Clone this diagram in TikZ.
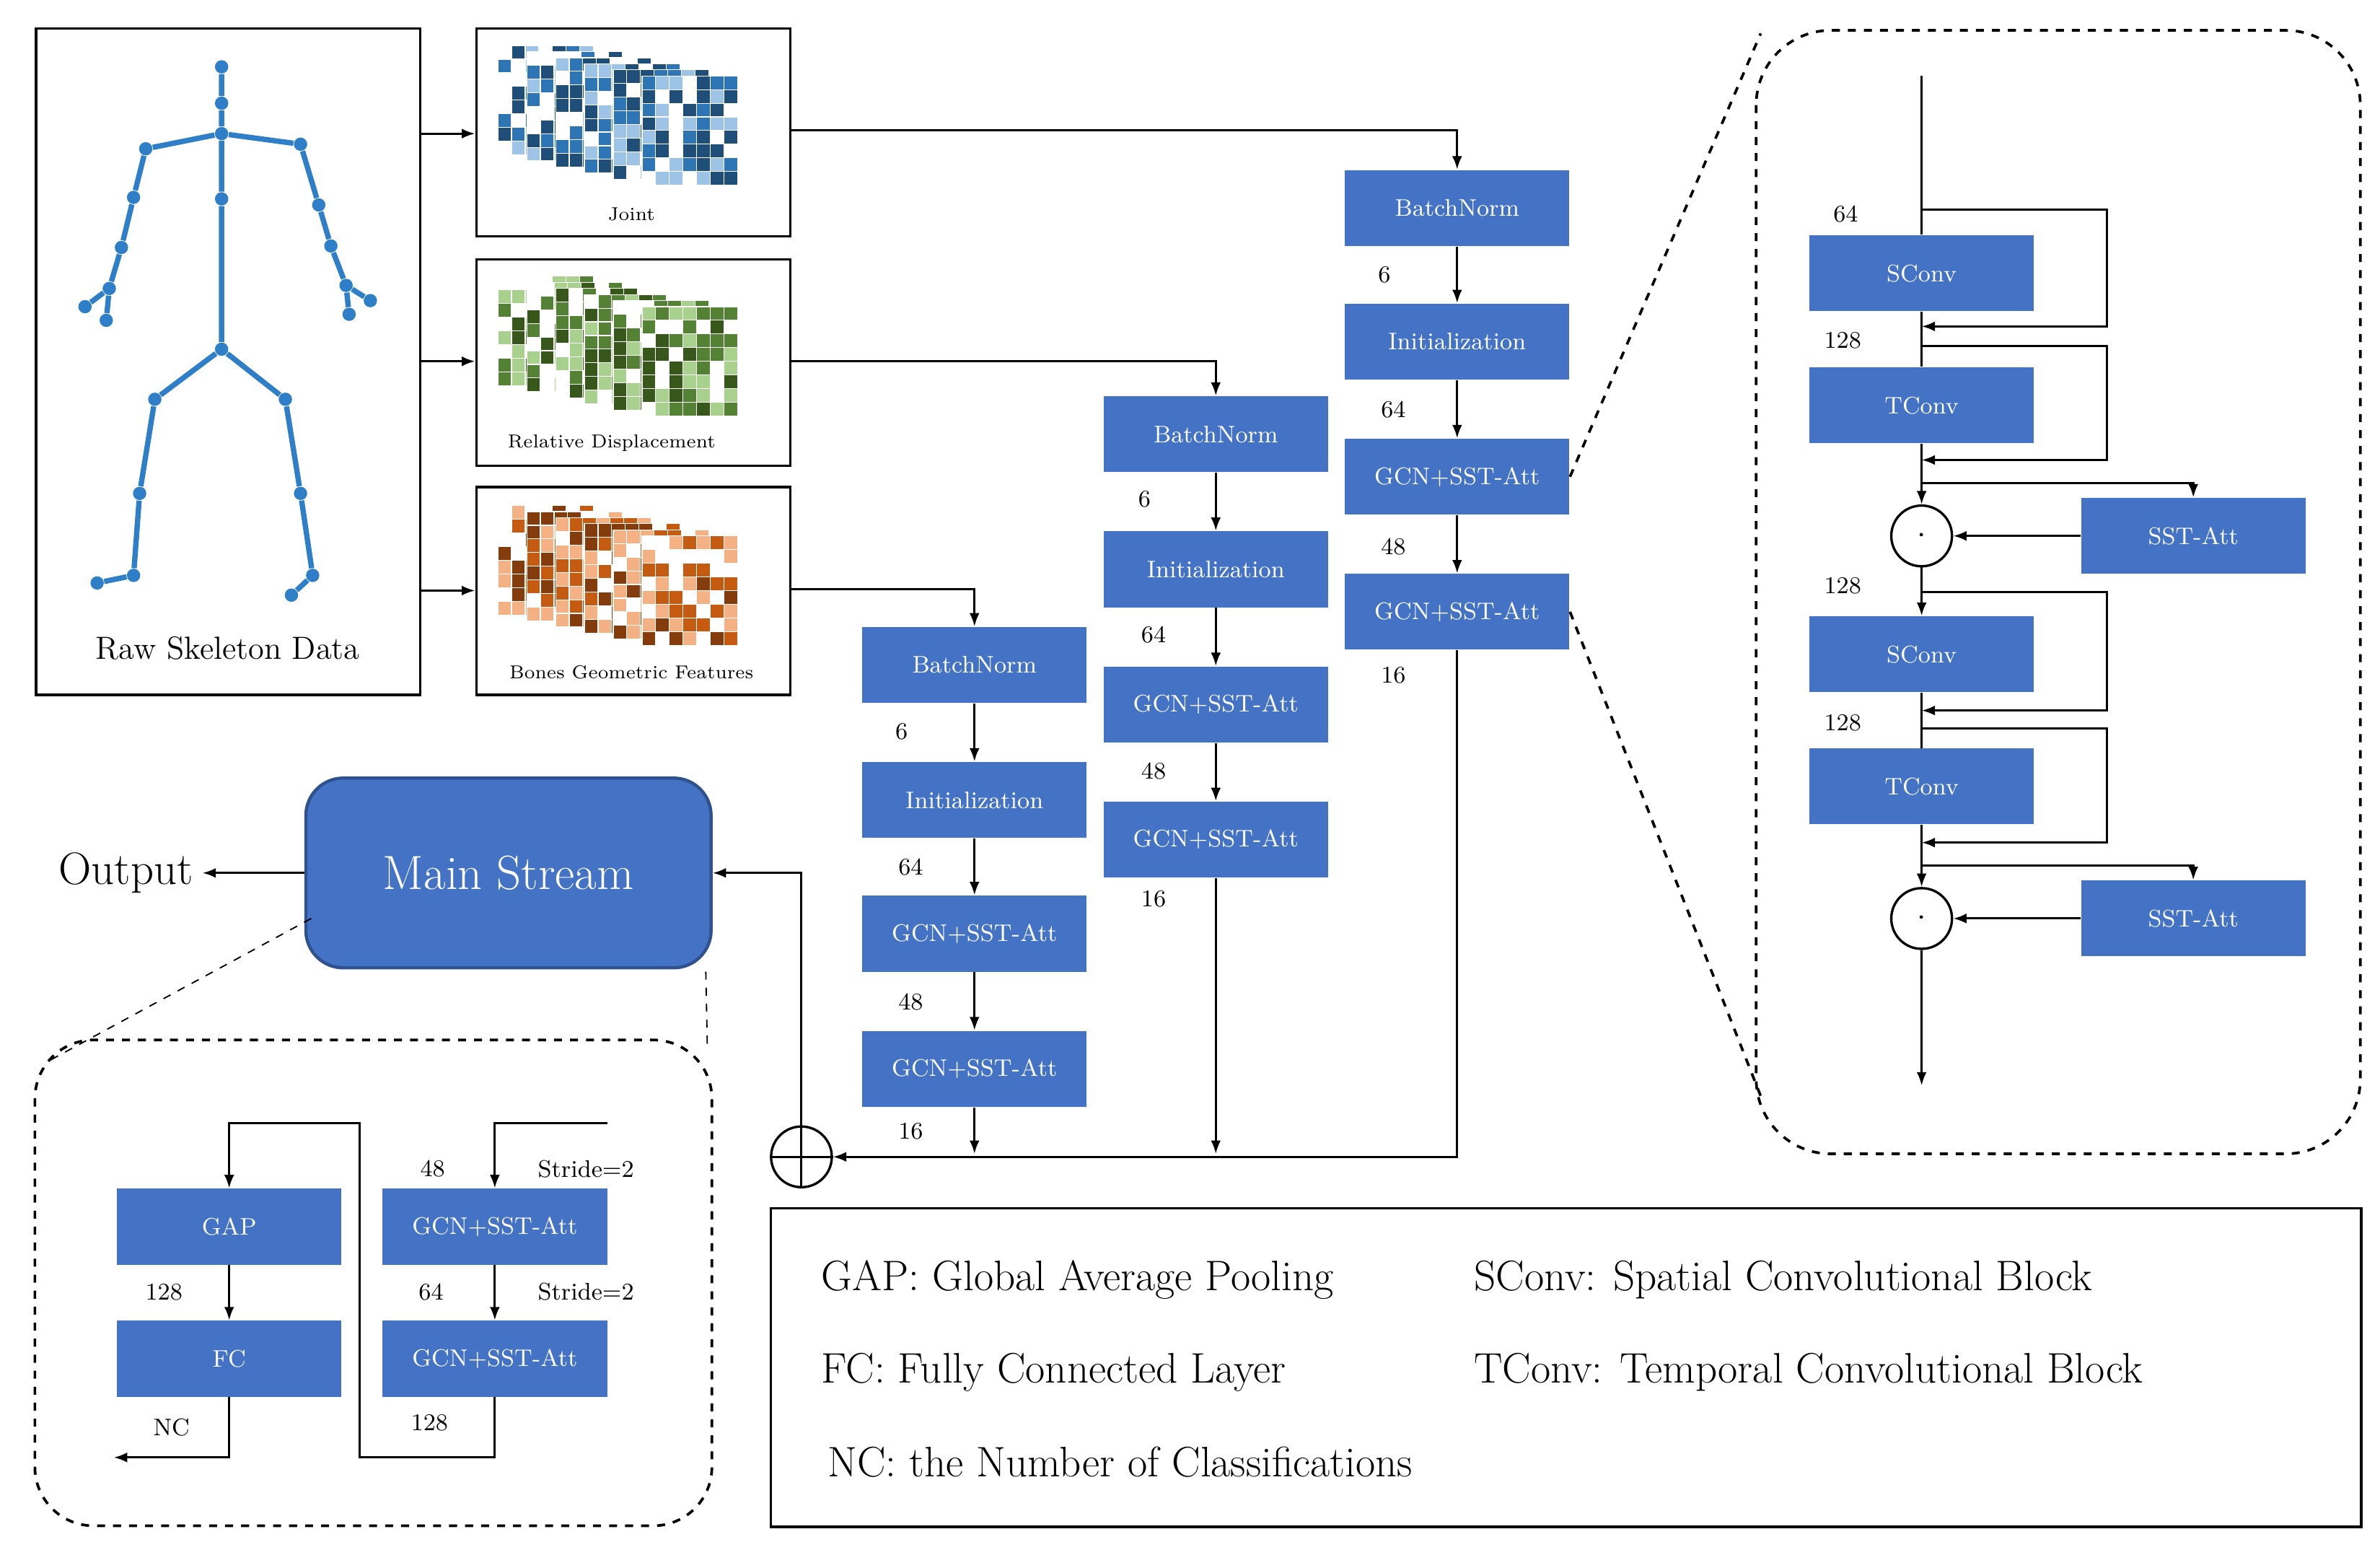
\documentclass[tikz,border=0pt]{standalone}
\usetikzlibrary{arrows.meta,positioning}
\definecolor{blk}{HTML}{4472C4}
\definecolor{blkd}{HTML}{2F528F}
\definecolor{skel}{HTML}{2E7FC8}
\definecolor{bl1}{HTML}{1F4E79}\definecolor{bl2}{HTML}{2E75B6}\definecolor{bl3}{HTML}{9DC3E6}
\definecolor{gr1}{HTML}{38571A}\definecolor{gr2}{HTML}{548235}\definecolor{gr3}{HTML}{A9D18E}
\definecolor{or1}{HTML}{843C0C}\definecolor{or2}{HTML}{C55A11}\definecolor{or3}{HTML}{F4B183}
\tikzset{
  blk/.style={fill=blk,text=white,minimum width=2.96cm,minimum height=1cm,inner sep=0pt,font=\small},
  num/.style={font=\small,inner sep=1pt},
  frame/.style={draw,line width=0.9pt},
  arr/.style={-{Latex[length=5pt]},line width=0.8pt},
  ln/.style={line width=0.8pt},
  jt/.style={circle,fill=skel,inner sep=0pt,minimum size=5pt},
}
% stack of feature grids: x0, y0, palette, seed
\newcommand\featstack[4]{%
  \pgfmathsetseed{#4}%
  \foreach \l in {0,...,5}{%
    \foreach \i in {0,...,6}{%
      \foreach \j in {0,...,7}{%
        \pgfmathrandominteger{\r}{1}{4}%
        \ifnum\r=4 \def\cc{white}\else\def\cc{#3\r}\fi
        \filldraw[fill=\cc,draw=white,line width=0.3pt]
          ({#1+\l*19+\i*9},{#2+\l*4+\j*9}) rectangle ++(9,9);
      }}}}
\begin{document}
\begin{tikzpicture}[x=0.02cm,y=-0.02cm]
\useasboundingbox (0,0) rectangle (1568,1024);

% skeleton
\node[frame,minimum width=5.06cm,minimum height=8.78cm,anchor=north west] (skelbox) at (23,18) {};
\node[font=\large] (rawlbl) at (150,427) {Raw Skeleton Data};
\foreach \n/\x/\y in {hd/146/44,nk/146/68,sc/146/88,ls/96/98,rs/198/95,sp/146/131,hp/146/230,
  le/88/130,lw/80/163,lh/72/190,lf1/56/202,lf2/70/211,
  re/210/135,rw/218/162,rh/228/188,rf1/244/198,rf2/230/207,
  lk0/102/263,lk/92/325,la/88/379,lt/64/384,rk0/188/263,rk/198/325,ra/206/379,rt/192/392}
  \node[jt] (\n) at (\x,\y) {};
\draw[skel,line width=2pt] (hd)--(nk)--(sc)--(sp)--(hp)
  (ls)--(sc)--(rs) (ls)--(le)--(lw)--(lh)--(lf1) (lh)--(lf2)
  (rs)--(re)--(rw)--(rh)--(rf1) (rh)--(rf2)
  (hp)--(lk0)--(lk)--(la)--(lt) (hp)--(rk0)--(rk)--(ra)--(rt);

% feature inputs
\node[frame,minimum width=4.14cm,minimum height=2.74cm,anchor=north west] (joint) at (313,18) {};
\node[frame,minimum width=4.14cm,minimum height=2.72cm,anchor=north west] (reldis) at (313,170) {};
\node[frame,minimum width=4.14cm,minimum height=2.74cm,anchor=north west] (bones) at (313,320) {};
\featstack{328}{30}{bl}{3}
\featstack{328}{182}{gr}{7}
\featstack{328}{333}{or}{11}
\node[font=\scriptsize] at (416,141) {Joint};
\node[font=\scriptsize] at (403,292) {Relative Displacement};
\node[font=\scriptsize] at (416,443) {Bones Geometric Features};
\foreach \y/\t in {88/joint,238/reldis,389/bones}
  \draw[arr] (276,\y) -- (\t.west |- 0,\y);

% three streams
\node[blk] (bn4) at (960,137) {BatchNorm};
\node[blk] (in4) at (960,225) {Initialization};
\node[blk] (ga4) at (960,314) {GCN+SST-Att};
\node[blk] (gb4) at (960,403) {GCN+SST-Att};
\node[blk] (bn3) at (801,286) {BatchNorm};
\node[blk] (in3) at (801,375) {Initialization};
\node[blk] (ga3) at (801,464) {GCN+SST-Att};
\node[blk] (gb3) at (801,553) {GCN+SST-Att};
\node[blk] (bn2) at (642,438) {BatchNorm};
\node[blk] (in2) at (642,527) {Initialization};
\node[blk] (ga2) at (642,615) {GCN+SST-Att};
\node[blk] (gb2) at (642,704) {GCN+SST-Att};
\foreach \c/\x in {4/918,3/760,2/600}{
  \draw[arr] (bn\c) -- (in\c);
  \draw[arr] (in\c) -- (ga\c);
  \draw[arr] (ga\c) -- (gb\c);
}
\node[num] at (912,181) {6};\node[num] at (918,270) {64};\node[num] at (918,360) {48};\node[num] at (918,445) {16};
\node[num] at (754,329) {6};\node[num] at (760,418) {64};\node[num] at (760,508) {48};\node[num] at (760,592) {16};
\node[num] at (594,482) {6};\node[num] at (600,571) {64};\node[num] at (600,660) {48};\node[num] at (600,745) {16};
\draw[arr] (joint.east |- 0,86) -| (bn4.north);
\draw[arr] (reldis.east |- 0,238) -| (bn3.north);
\draw[arr] (bones.east |- 0,388) -| (bn2.north);

% fusion
\node[circle,draw,line width=0.9pt,minimum size=0.8cm,inner sep=0pt] (sum) at (528,762) {};
\draw[ln] (sum.north)--(sum.south) (sum.west)--(sum.east);
\draw[arr] (gb4.south) |- (sum.east);
\draw[arr] (gb3.south) -- (gb3.south |- 0,760);
\draw[arr] (gb2.south) -- (gb2.south |- 0,760);
\node[draw=blkd,fill=blk,text=white,rounded corners=14pt,line width=1.2pt,minimum width=5.34cm,
  minimum height=2.5cm,font=\fontsize{18}{20}\selectfont] (main) at (335,575) {Main Stream};
\draw[arr] (sum.north) |- (main.east);
\node[font=\fontsize{17}{20}\selectfont] (out) at (83,575) {Output};
\draw[arr] (main.west) -- (out.east);

% main stream detail
\draw[dashed,line width=1pt,rounded corners=22pt] (23,685) rectangle (469,1005);
\draw[dashed,line width=0.5pt] (205,605) -- (30,700);
\draw[dashed,line width=0.5pt] (465,640) -- (466,690);
\node[blk] (gap) at (151,808) {GAP};
\node[blk] (fc) at (151,895) {FC};
\node[blk] (ms1) at (326,808) {GCN+SST-Att};
\node[blk] (ms2) at (326,895) {GCN+SST-Att};
\coordinate (msin) at (400,740);
\coordinate (ncout) at (75,960);
\draw[arr] (msin) -| (ms1.north);
\draw[arr] (ms1) -- (ms2);
\draw[arr] (ms2.south) |- (237,960) |- (gap.north |- 0,740) -- (gap.north);
\draw[arr] (gap) -- (fc);
\draw[arr] (fc.south) |- (ncout);
\node[num] at (285,770) {48};\node[num] at (386,770) {Stride=2};
\node[num] at (284,851) {64};\node[num] at (386,851) {Stride=2};
\node[num] at (283,937) {128};\node[num] at (108,851) {128};\node[num] at (113,940) {NC};

% legend
\node[frame,minimum width=20.96cm,minimum height=4.2cm,anchor=north west] (legend) at (507,795) {};
\begin{scope}[font=\fontsize{16}{19}\selectfont]
\node[anchor=west] at (535,843) {GAP: Global Average Pooling};
\node[anchor=west] at (965,843) {SConv: Spatial Convolutional Block};
\node[anchor=west] at (535,904) {FC: Fully Connected Layer};
\node[anchor=west] at (965,904) {TConv: Temporal Convolutional Block};
\node[anchor=west] at (539,963) {NC: the Number of Classifications};
\end{scope}

% GCN+SST-Att detail
\draw[dashed,line width=1pt,rounded corners=28pt] (1157,20) rectangle (1555,760);
\draw[dashed,line width=1pt] (ga4.east) -- (1160,22);
\draw[dashed,line width=1pt] (gb4.east) -- (1160,722);
\node[blk] (sc1) at (1266,180) {SConv};
\node[blk] (tc1) at (1266,267) {TConv};
\node[circle,draw,line width=0.9pt,minimum size=0.8cm,inner sep=0pt,font=\large] (dot1) at (1266,353) {$\cdot$};
\node[blk] (at1) at (1445,353) {SST-Att};
\node[blk] (sc2) at (1266,431) {SConv};
\node[blk] (tc2) at (1266,518) {TConv};
\node[circle,draw,line width=0.9pt,minimum size=0.8cm,inner sep=0pt,font=\large] (dot2) at (1266,605) {$\cdot$};
\node[blk] (at2) at (1445,605) {SST-Att};
\coordinate (din) at (1266,50);
\coordinate (dout) at (1266,715);
\draw[ln] (din) -- (sc1);
\draw[ln] (sc1) -- (tc1);
\draw[arr] (tc1) -- (dot1);
\draw[arr] (dot1) -- (sc2);
\draw[ln] (sc2) -- (tc2);
\draw[arr] (tc2) -- (dot2);
\draw[arr] (dot2) -- (dout);
\draw[arr] (1266,138) -- (1388,138) -- (1388,215) -- (1266,215);
\draw[arr] (1266,228) -- (1388,228) -- (1388,303) -- (1266,303);
\draw[arr] (1266,390) -- (1388,390) -- (1388,468) -- (1266,468);
\draw[arr] (1266,480) -- (1388,480) -- (1388,555) -- (1266,555);
\draw[arr] (1266,318) -| (at1.north);
\draw[arr] (1266,570) -| (at2.north);
\draw[arr] (at1) -- (dot1);
\draw[arr] (at2) -- (dot2);
\node[num] at (1216,141) {64};\node[num] at (1214,224) {128};
\node[num] at (1214,386) {128};\node[num] at (1214,476) {128};
\end{tikzpicture}
\end{document}
